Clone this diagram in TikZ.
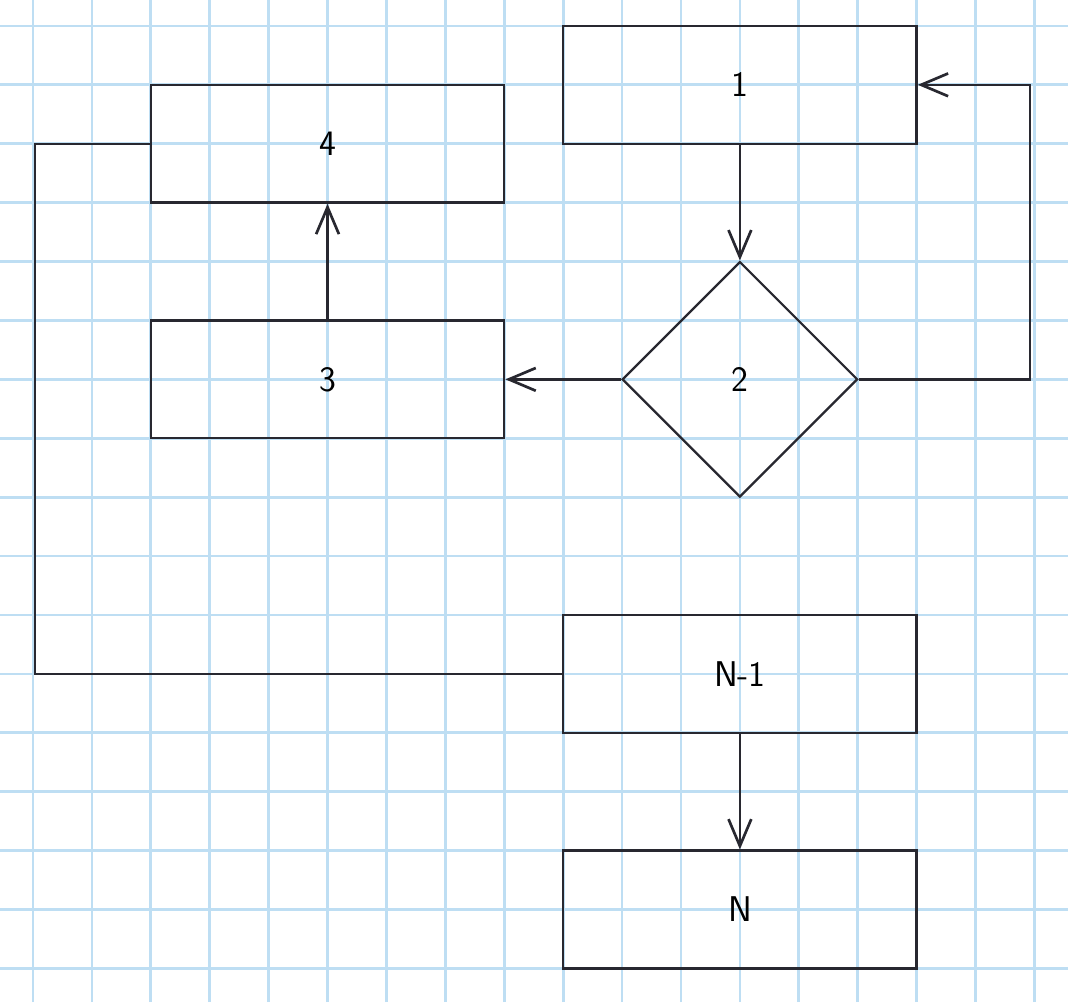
\documentclass[tikz,border=0pt]{standalone}
\usepackage{xcolor}
\usepackage{tikz}
\usetikzlibrary{shapes.geometric, arrows.meta, positioning, calc}

\definecolor{paperblue}{RGB}{190,222,243}
\definecolor{penink}{RGB}{40,40,48}

\begin{document}
\begin{tikzpicture}[
    box/.style={draw=penink, line width=1.1pt, minimum width=6cm, minimum height=2cm, inner sep=0pt, font=\LARGE\sffamily},
    choice/.style={draw=penink, line width=1.1pt, diamond, minimum width=4cm, minimum height=4cm, inner sep=0pt, font=\LARGE\sffamily},
    flow/.style={draw=penink, line width=1.1pt, -{Straight Barb[length=13pt, width=11pt, line width=1.3pt]}},
    link/.style={draw=penink, line width=1.1pt},
]
    % Papier quadrillé
    \useasboundingbox (-0.56,0.44) rectangle (17.57,-16.57);
    \fill[white] (-0.56,0.44) rectangle (17.57,-16.57);
    \draw[paperblue, line width=1.3pt, step=1] (-0.56,-16.57) grid (17.57,0.44);

    % Blocs
    \node[box] (b1) at (12,-1) {1};
    \node[choice] (b2) at (12,-6) {2};
    \node[box] (b3) at (5,-6) {3};
    \node[box] (b4) at (5,-2) {4};
    \node[box] (bn1) at (12,-11) {N-1};
    \node[box] (bn) at (12,-15) {N};

    % Liaisons
    \draw[flow] (b1) -- (b2);
    \draw[flow] (b2) -- (b3);
    \draw[flow] (b3) -- (b4);
    \draw[flow] (b2.east) -- (16.92,-6) |- (b1.east);
    \draw[link] (b4.west) -- (0.04,-2) |- (bn1.west);
    \draw[flow] (bn1) -- (bn);
\end{tikzpicture}
\end{document}
